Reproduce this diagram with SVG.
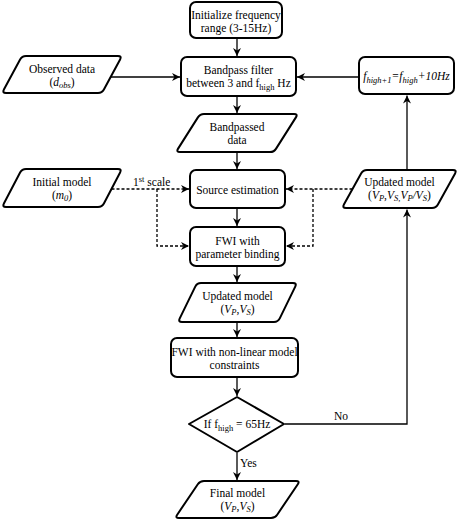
<svg xmlns="http://www.w3.org/2000/svg" width="474" height="520" viewBox="0 0 474 520" font-family="'Liberation Serif', 'Times New Roman', serif" font-size="11.5">
<style>
.box{fill:#fff;stroke:#000;stroke-width:2;stroke-linejoin:round}
.ln{fill:none;stroke:#000;stroke-width:1.3}
.dl{fill:none;stroke:#000;stroke-width:1.3;stroke-dasharray:3,2}
</style>
<defs>
<marker id="ah" viewBox="0 0 10 10" refX="10" refY="5" markerWidth="8" markerHeight="8" markerUnits="userSpaceOnUse" orient="auto"><path d="M0,0 L10,5 L0,10 L3,5 Z" fill="#000"/></marker>
</defs>
<rect width="474" height="520" fill="#fff"/>
<g id="connectors">
<line class="ln" x1="237" y1="39" x2="237" y2="56" marker-end="url(#ah)"/>
<line class="ln" x1="110.6" y1="77" x2="180" y2="77" marker-end="url(#ah)"/>
<line class="ln" x1="358" y1="77" x2="297" y2="77" marker-end="url(#ah)"/>
<line class="ln" x1="237" y1="97" x2="237" y2="113" marker-end="url(#ah)"/>
<line class="ln" x1="237" y1="153" x2="237" y2="169" marker-end="url(#ah)"/>
<line class="ln" x1="237" y1="209" x2="237" y2="226" marker-end="url(#ah)"/>
<line class="ln" x1="237" y1="267" x2="237" y2="282" marker-end="url(#ah)"/>
<line class="ln" x1="237" y1="323" x2="237" y2="337" marker-end="url(#ah)"/>
<line class="ln" x1="237" y1="378" x2="237" y2="396" marker-end="url(#ah)"/>
<line class="ln" x1="237" y1="453" x2="237" y2="480" marker-end="url(#ah)"/>
<polyline class="ln" points="285,424 407,424 407,209.5" marker-end="url(#ah)"/>
<line class="ln" x1="407" y1="169" x2="407" y2="95.5" marker-end="url(#ah)"/>
<line class="dl" x1="111.5" y1="189" x2="189" y2="189" marker-end="url(#ah)"/>
<polyline class="dl" points="157,189 157,246 189,246" marker-end="url(#ah)"/>
<line class="dl" x1="352.5" y1="189" x2="286" y2="189" marker-end="url(#ah)"/>
<polyline class="dl" points="313,189 313,246 286,246" marker-end="url(#ah)"/>
<text x="133" y="186" fill="#000">1<tspan font-size="8.5" dy="-4" fill="#000">st</tspan><tspan dy="4" fill="#000"> scale</tspan></text>
<text x="341" y="420" text-anchor="middle" fill="#000">No</text>
<text x="240" y="467" fill="#000">Yes</text>
</g>
<g id="init">
<rect class="box" x="190" y="2" width="92" height="36" rx="6"/>
<text x="236" y="19" text-anchor="middle" fill="#000">Initialize frequency</text>
<text x="236" y="32" text-anchor="middle" fill="#000">range (3-15Hz)</text>
</g>
<g id="bandpass">
<rect class="box" x="181" y="57" width="115" height="39" rx="6"/>
<text x="238.5" y="74" text-anchor="middle" fill="#000">Bandpass filter</text>
<text x="238.5" y="87" text-anchor="middle" fill="#000">between 3 and f<tspan font-size="8.5" dy="3" fill="#000">high</tspan><tspan dy="-3" fill="#000"> Hz</tspan></text>
</g>
<g id="observed">
<path class="box" d="M26,56 H118 Q122,56 120.1,59.5 L103.9,89.5 Q102,93 98,93 H6 Q2,93 3.9,89.5 L20.1,59.5 Q22,56 26,56 Z"/>
<text x="62" y="73" text-anchor="middle" fill="#000">Observed data</text>
<text x="62" y="86" text-anchor="middle" fill="#000">(<tspan font-style="italic" fill="#000">d</tspan><tspan font-style="italic" font-size="8.5" dy="2" fill="#000">obs</tspan><tspan dy="-2" fill="#000">)</tspan></text>
</g>
<g id="fupdate">
<rect class="box" x="359" y="57" width="95" height="37" rx="6"/>
<text x="406.5" y="80" text-anchor="middle" font-style="italic" fill="#000">f<tspan font-size="8.5" dy="3" fill="#000">high+1</tspan><tspan dy="-3" fill="#000">=f</tspan><tspan font-size="8.5" dy="3" fill="#000">high</tspan><tspan dy="-3" fill="#000">+10Hz</tspan></text>
</g>
<g id="bandpassed">
<path class="box" d="M204,114 H294 Q298,114 295.9,117.4 L276.1,148.6 Q274,152 270,152 H180 Q176,152 178.1,148.6 L197.9,117.4 Q200,114 204,114 Z"/>
<text x="237" y="131" text-anchor="middle" fill="#000">Bandpassed</text>
<text x="237" y="144" text-anchor="middle" fill="#000">data</text>
</g>
<g id="initial">
<path class="box" d="M26,169 H118 Q122,169 120.1,172.5 L103.9,203.5 Q102,207 98,207 H6 Q2,207 3.9,203.5 L20.1,172.5 Q22,169 26,169 Z"/>
<text x="62" y="186" text-anchor="middle" fill="#000">Initial model</text>
<text x="62" y="199" text-anchor="middle" fill="#000">(<tspan font-style="italic" fill="#000">m</tspan><tspan font-style="italic" font-size="8.5" dy="2" fill="#000">0</tspan><tspan dy="-2" fill="#000">)</tspan></text>
</g>
<g id="source">
<rect class="box" x="190" y="170" width="95" height="38" rx="6"/>
<text x="237.5" y="194" text-anchor="middle" fill="#000">Source estimation</text>
</g>
<g id="updatedRight">
<path class="box" d="M367,170 H453 Q457,170 455.1,173.5 L437.9,204.5 Q436,208 432,208 H346 Q342,208 343.9,204.5 L361.1,173.5 Q363,170 367,170 Z"/>
<text x="399.5" y="186" text-anchor="middle" fill="#000">Updated model</text>
<text x="399.5" y="199" text-anchor="middle" fill="#000">(<tspan font-style="italic" fill="#000">V</tspan><tspan font-style="italic" font-size="8.5" dy="2" fill="#000">P</tspan><tspan dy="-2" fill="#000">,</tspan><tspan font-style="italic" fill="#000">V</tspan><tspan font-style="italic" font-size="8.5" dy="2" fill="#000">S,</tspan><tspan font-style="italic" dy="-2" fill="#000">V</tspan><tspan font-style="italic" font-size="8.5" dy="2" fill="#000">P</tspan><tspan font-style="italic" dy="-2" fill="#000">/V</tspan><tspan font-style="italic" font-size="8.5" dy="2" fill="#000">S</tspan><tspan dy="-2" fill="#000">)</tspan></text>
</g>
<g id="fwiBinding">
<rect class="box" x="190" y="227" width="95" height="39" rx="6"/>
<text x="237.5" y="245" text-anchor="middle" fill="#000">FWI with</text>
<text x="237.5" y="258" text-anchor="middle" fill="#000">parameter binding</text>
</g>
<g id="updatedMid">
<path class="box" d="M201,283 H293 Q297,283 295.25,286.6 L279.75,318.4 Q278,322 274,322 H182 Q178,322 179.75,318.4 L195.25,286.6 Q197,283 201,283 Z"/>
<text x="237.5" y="300" text-anchor="middle" fill="#000">Updated model</text>
<text x="237.5" y="313" text-anchor="middle" fill="#000">(<tspan font-style="italic" fill="#000">V</tspan><tspan font-style="italic" font-size="8.5" dy="2" fill="#000">P</tspan><tspan dy="-2" fill="#000">,</tspan><tspan font-style="italic" fill="#000">V</tspan><tspan font-style="italic" font-size="8.5" dy="2" fill="#000">S</tspan><tspan dy="-2" fill="#000">)</tspan></text>
</g>
<g id="fwiNonlinear">
<rect class="box" x="171" y="338" width="127" height="39" rx="6"/>
<text x="234.5" y="356" text-anchor="middle" fill="#000">FWI with non-linear model</text>
<text x="234.5" y="369" text-anchor="middle" fill="#000">constraints</text>
</g>
<g id="decision">
<path class="box" d="M237,397 L284,424 L237,452 L189,424 Z"/>
<text x="237" y="428" text-anchor="middle" fill="#000">If f<tspan font-size="8.5" dy="3" fill="#000">high</tspan><tspan dy="-3" fill="#000"> = 65Hz</tspan></text>
</g>
<g id="final">
<path class="box" d="M204,481 H296 Q300,481 297.8,484.3 L277.2,514.7 Q275,518 271,518 H179 Q175,518 177.2,514.7 L197.8,484.3 Q200,481 204,481 Z"/>
<text x="237.5" y="497" text-anchor="middle" fill="#000">Final model</text>
<text x="237.5" y="510" text-anchor="middle" fill="#000">(<tspan font-style="italic" fill="#000">V</tspan><tspan font-style="italic" font-size="8.5" dy="2" fill="#000">P</tspan><tspan dy="-2" fill="#000">,</tspan><tspan font-style="italic" fill="#000">V</tspan><tspan font-style="italic" font-size="8.5" dy="2" fill="#000">S</tspan><tspan dy="-2" fill="#000">)</tspan></text>
</g>
</svg>
